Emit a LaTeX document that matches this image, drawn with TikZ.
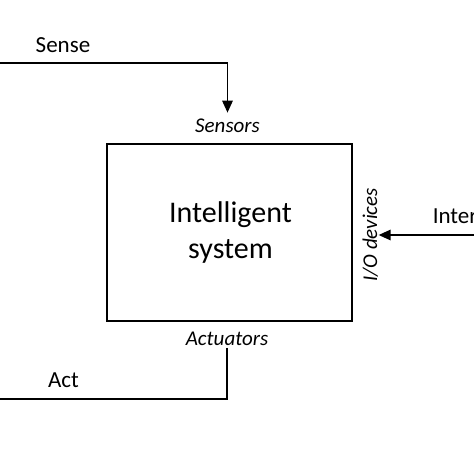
\documentclass[tikz,border=0pt]{standalone}
\usepackage{fontspec}
\setmainfont{Carlito}
\usetikzlibrary{arrows.meta}

\begin{document}
\begin{tikzpicture}[x=1pt,y=-1pt,line width=1.5pt,
  >={Triangle[length=12pt,width=10.5pt]},
  lab/.style={inner sep=0pt,font=\fontsize{23}{27}\selectfont},
  port/.style={inner sep=0pt,font=\fontsize{21}{25}\selectfont\itshape}]
\useasboundingbox (0,0) rectangle (474,474);
\node[draw,minimum width=245pt,minimum height=177pt,inner sep=0pt] (sys) at (229.5,232.5) {};
\node[align=center,inner sep=0pt,font=\fontsize{30}{36}\selectfont] (name) at (230.5,232) {Intelligent\\system};
\node[port,anchor=base] (sensors) at (227.5,132) {Sensors};
\node[port,anchor=base] (actuators) at (227,345) {Actuators};
\node[port,anchor=base,rotate=90] (iodev) at (377,235) {I/O devices};
\node[lab,anchor=base] (sense) at (63,52) {Sense};
\node[lab,anchor=base] (act) at (63.5,387) {Act};
\node[lab,anchor=base west] (inter) at (432,223) {Interact};
\coordinate (senseL) at (0,63);
\coordinate (actL) at (0,399);
\coordinate (interR) at (474,235);
\draw[->] (senseL) -| ([yshift=5pt]sensors.north);
\draw ([yshift=-2pt]actuators.south) |- (actL);
\draw[->] (interR) -- (iodev.south);
\end{tikzpicture}
\end{document}
